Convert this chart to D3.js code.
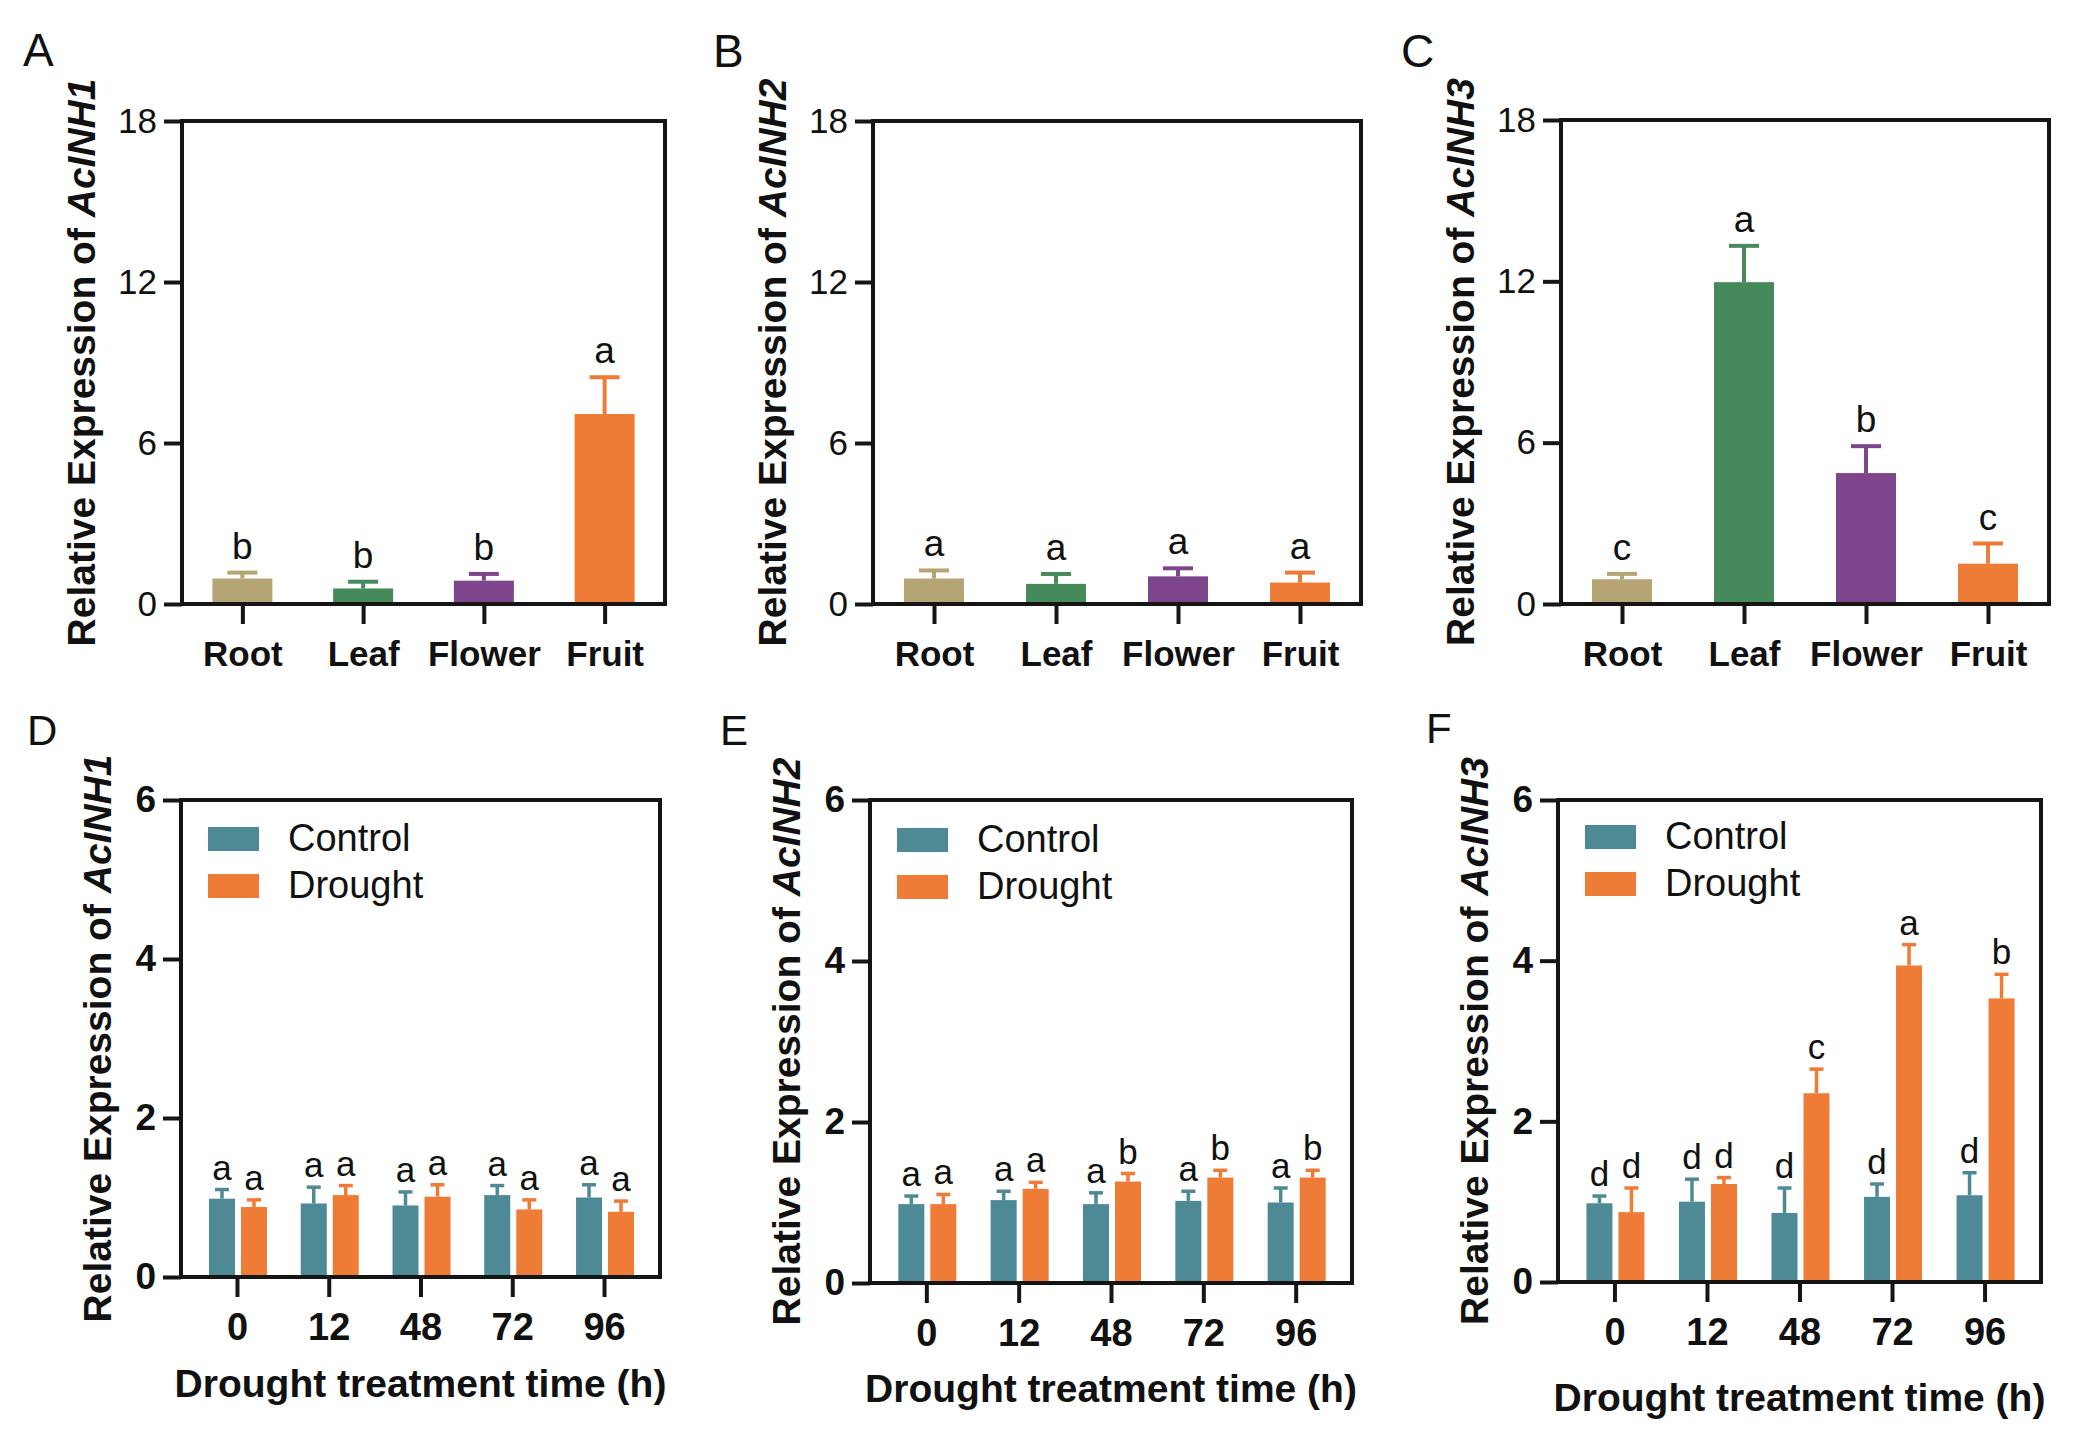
<!DOCTYPE html>
<html>
<head>
<meta charset="utf-8">
<script src="https://cdn.jsdelivr.net/npm/d3@7"></script>
<style>
  html, body { margin: 0; padding: 0; background: #fff; }
  svg text { font-family: "Liberation Sans", Arial, sans-serif; fill: #111; }
</style>
</head>
<body>
<svg id="fig" width="2076" height="1444"></svg>
<script>
// ---- data ----
var tissues = ["Root", "Leaf", "Flower", "Fruit"];
var times = ["0", "12", "48", "72", "96"];
var series = ["Control", "Drought"];

var inh1Tissue = [0.95, 0.58, 0.87, 7.08];
var inh1TissueErr = [0.22, 0.25, 0.25, 1.37];
var inh1TissueSig = ["b", "b", "b", "a"];

var inh2Tissue = [0.95, 0.75, 1.03, 0.80];
var inh2TissueErr = [0.30, 0.37, 0.30, 0.37];
var inh2TissueSig = ["a", "a", "a", "a"];

var inh3Tissue = [0.92, 11.97, 4.87, 1.50];
var inh3TissueErr = [0.20, 1.35, 1.00, 0.75];
var inh3TissueSig = ["c", "a", "b", "c"];

var inh1Control = [0.985, 0.925, 0.90, 1.03, 1.00];
var inh1ControlErr = [0.115, 0.205, 0.17, 0.12, 0.16];
var inh1Drought = [0.88, 1.03, 1.01, 0.85, 0.82];
var inh1DroughtErr = [0.09, 0.12, 0.15, 0.12, 0.135];
var inh1ControlSig = ["a", "a", "a", "a", "a"];
var inh1DroughtSig = ["a", "a", "a", "a", "a"];

var inh2Control = [0.98, 1.03, 0.98, 1.02, 1.00];
var inh2ControlErr = [0.10, 0.11, 0.14, 0.12, 0.18];
var inh2Drought = [0.98, 1.17, 1.26, 1.31, 1.31];
var inh2DroughtErr = [0.12, 0.08, 0.10, 0.09, 0.09];
var inh2ControlSig = ["a", "a", "a", "a", "a"];
var inh2DroughtSig = ["a", "a", "b", "b", "b"];

var inh3Control = [0.98, 1.00, 0.86, 1.06, 1.08];
var inh3ControlErr = [0.09, 0.28, 0.31, 0.16, 0.28];
var inh3Drought = [0.87, 1.22, 2.35, 3.94, 3.53];
var inh3DroughtErr = [0.30, 0.08, 0.30, 0.26, 0.30];
var inh3ControlSig = ["d", "d", "d", "d", "d"];
var inh3DroughtSig = ["d", "d", "c", "a", "b"];

var tissueTicks = [0, 6, 12, 18];
var droughtTicks = [0, 2, 4, 6];

// ---- styles ----
var tissueColors = ["#b5a574", "#468a5c", "#7e458c", "#ee7b36"];
var seriesColors = ["#4e8a96", "#ee7b36"];
var ink = "#151515";

var svg = d3.select("#fig");

function frame(g, box, y, ticks, boldTicks) {
  // box outline
  g.append("rect")
    .attr("x", box.x0).attr("y", box.y0)
    .attr("width", box.x1 - box.x0).attr("height", box.y1 - box.y0)
    .attr("fill", "none").attr("stroke", ink).attr("stroke-width", 4);

  var yAxis = d3.axisLeft(y).tickValues(ticks).tickFormat(d3.format("d")).tickSize(18).tickPadding(7);
  var ya = g.append("g").attr("transform", "translate(" + box.x0 + ",0)").call(yAxis);
  ya.select(".domain").remove();
  ya.selectAll("line").attr("stroke", ink).attr("stroke-width", 4);
  ya.selectAll("text")
    .style("font-size", boldTicks ? "37px" : "35px")
    .style("font-weight", boldTicks ? "bold" : "normal")
    .attr("fill", ink);
}

function yTitle(g, x, yc, gene, size) {
  var t = g.append("text")
    .attr("transform", "translate(" + x + "," + yc + ") rotate(-90)")
    .attr("text-anchor", "middle")
    .attr("dy", "0.36em")
    .style("font-size", size + "px")
    .style("font-weight", "bold");
  t.append("tspan").text("Relative Expression of ");
  t.append("tspan").style("font-style", "italic").text(gene);
}

function tissuePanel(box, letter, letterPos, gene, vals, errs, sigs) {
  var g = svg.append("g");
  var y = d3.scaleLinear().domain([0, 18]).range([box.y1, box.y0]);
  var x = d3.scalePoint().domain(tissues).range([box.x0, box.x1]).padding(0.5);
  var bw = 60;

  var rows = tissues.map(function(t, i) {
    return {cat: t, v: vals[i], e: errs[i], s: sigs[i], c: tissueColors[i]};
  });

  g.selectAll(".bar").data(rows).enter().append("rect")
    .attr("x", function(d) { return x(d.cat) - bw / 2; })
    .attr("y", function(d) { return y(d.v); })
    .attr("width", bw)
    .attr("height", function(d) { return y(0) - y(d.v); })
    .attr("fill", function(d) { return d.c; });

  g.selectAll(".err").data(rows).enter().append("line")
    .attr("x1", function(d) { return x(d.cat); })
    .attr("x2", function(d) { return x(d.cat); })
    .attr("y1", function(d) { return y(d.v); })
    .attr("y2", function(d) { return y(d.v + d.e); })
    .attr("stroke", function(d) { return d.c; }).attr("stroke-width", 4);
  g.selectAll(".cap").data(rows).enter().append("line")
    .attr("x1", function(d) { return x(d.cat) - 15; })
    .attr("x2", function(d) { return x(d.cat) + 15; })
    .attr("y1", function(d) { return y(d.v + d.e); })
    .attr("y2", function(d) { return y(d.v + d.e); })
    .attr("stroke", function(d) { return d.c; }).attr("stroke-width", 4);

  g.selectAll(".sig").data(rows).enter().append("text")
    .attr("x", function(d) { return x(d.cat); })
    .attr("y", function(d) { return y(d.v + d.e) - 14; })
    .attr("text-anchor", "middle")
    .style("font-size", "37px")
    .text(function(d) { return d.s; });

  frame(g, box, y, tissueTicks, false);

  // category ticks + labels
  var xa = g.append("g").attr("transform", "translate(0," + box.y1 + ")")
    .call(d3.axisBottom(x).tickSize(20).tickPadding(17));
  xa.select(".domain").remove();
  xa.selectAll("line").attr("stroke", ink).attr("stroke-width", 4);
  xa.selectAll("text").style("font-size", "35px").style("font-weight", "bold").attr("fill", ink);

  yTitle(g, box.x0 - 101, (box.y0 + box.y1) / 2, gene, 39);

  g.append("text").attr("x", letterPos[0]).attr("y", letterPos[1])
    .style("font-size", "46px").text(letter);
}

function droughtPanel(box, letter, letterPos, gene, cv, ce, dv, de, cs, ds, titleY, legendTop) {
  var g = svg.append("g");
  var y = d3.scaleLinear().domain([0, 6]).range([box.y1, box.y0]);
  var x = d3.scalePoint().domain(times).range([box.x0, box.x1]).padding(0.61);
  var x1 = d3.scaleBand().domain(series).range([-28, 30]).paddingInner(0.1875);

  var rows = [];
  times.forEach(function(t, i) {
    rows.push({t: t, k: "Control", v: cv[i], e: ce[i], s: cs[i], c: seriesColors[0]});
    rows.push({t: t, k: "Drought", v: dv[i], e: de[i], s: ds[i], c: seriesColors[1]});
  });
  function cx(d) { return x(d.t) + x1(d.k) + x1.bandwidth() / 2; }

  g.selectAll(".bar").data(rows).enter().append("rect")
    .attr("x", function(d) { return x(d.t) + x1(d.k); })
    .attr("y", function(d) { return y(d.v); })
    .attr("width", x1.bandwidth())
    .attr("height", function(d) { return y(0) - y(d.v); })
    .attr("fill", function(d) { return d.c; });

  g.selectAll(".err").data(rows).enter().append("line")
    .attr("x1", cx).attr("x2", cx)
    .attr("y1", function(d) { return y(d.v); })
    .attr("y2", function(d) { return y(d.v + d.e); })
    .attr("stroke", function(d) { return d.c; }).attr("stroke-width", 3.5);
  g.selectAll(".cap").data(rows).enter().append("line")
    .attr("x1", function(d) { return cx(d) - 7; })
    .attr("x2", function(d) { return cx(d) + 7; })
    .attr("y1", function(d) { return y(d.v + d.e); })
    .attr("y2", function(d) { return y(d.v + d.e); })
    .attr("stroke", function(d) { return d.c; }).attr("stroke-width", 3.5);

  g.selectAll(".sig").data(rows).enter().append("text")
    .attr("x", cx)
    .attr("y", function(d) { return y(d.v + d.e) - 10; })
    .attr("text-anchor", "middle")
    .style("font-size", "35px")
    .text(function(d) { return d.s; });

  frame(g, box, y, droughtTicks, true);

  var xa = g.append("g").attr("transform", "translate(0," + box.y1 + ")")
    .call(d3.axisBottom(x).tickSize(20).tickPadding(16));
  xa.select(".domain").remove();
  xa.selectAll("line").attr("stroke", ink).attr("stroke-width", 4);
  xa.selectAll("text").style("font-size", "38px").style("font-weight", "bold").attr("fill", ink);

  g.append("text")
    .attr("x", (box.x0 + box.x1) / 2).attr("y", titleY)
    .attr("text-anchor", "middle")
    .style("font-size", "39px").style("font-weight", "bold")
    .text("Drought treatment time (h)");

  yTitle(g, box.x0 - 84, (box.y0 + box.y1) / 2, gene, 39);

  // legend
  var lg = g.append("g").attr("transform", "translate(" + (box.x0 + 27) + "," + legendTop + ")");
  series.forEach(function(s, i) {
    lg.append("rect").attr("x", 0).attr("y", i * 47 - 12)
      .attr("width", 51).attr("height", 24).attr("fill", seriesColors[i]);
    lg.append("text").attr("x", 80).attr("y", i * 47 + 12)
      .style("font-size", "38px").text(s);
  });

  g.append("text").attr("x", letterPos[0]).attr("y", letterPos[1])
    .style("font-size", "42px").text(letter);
}

tissuePanel({x0: 182, x1: 665, y0: 121, y1: 604}, "A", [23, 66], "AcINH1", inh1Tissue, inh1TissueErr, inh1TissueSig);
tissuePanel({x0: 873, x1: 1361, y0: 121, y1: 604}, "B", [713, 67], "AcINH2", inh2Tissue, inh2TissueErr, inh2TissueSig);
tissuePanel({x0: 1561, x1: 2049, y0: 120, y1: 604}, "C", [1401, 67], "AcINH3", inh3Tissue, inh3TissueErr, inh3TissueSig);

droughtPanel({x0: 181, x1: 660, y0: 800, y1: 1277}, "D", [27, 745], "AcINH1",
  inh1Control, inh1ControlErr, inh1Drought, inh1DroughtErr, inh1ControlSig, inh1DroughtSig, 1397, 839);
droughtPanel({x0: 870, x1: 1352, y0: 800, y1: 1283}, "E", [720, 745], "AcINH2",
  inh2Control, inh2ControlErr, inh2Drought, inh2DroughtErr, inh2ControlSig, inh2DroughtSig, 1402, 840);
droughtPanel({x0: 1558, x1: 2041, y0: 800, y1: 1282}, "F", [1426, 743], "AcINH3",
  inh3Control, inh3ControlErr, inh3Drought, inh3DroughtErr, inh3ControlSig, inh3DroughtSig, 1411, 837);
</script>
</body>
</html>
